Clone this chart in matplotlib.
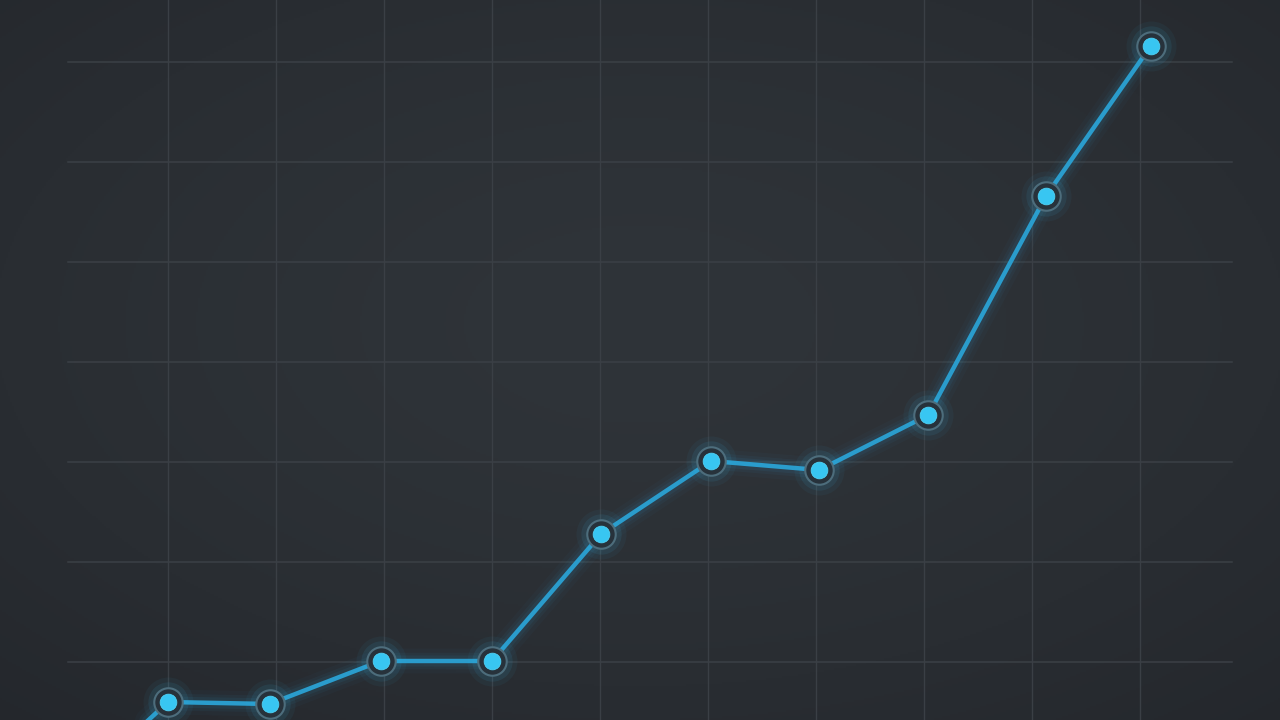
import numpy as np
import matplotlib.pyplot as plt

# data values (grid units: x = step index, y = value, gridlines every 10)
steps = [-1, 0, 0.94, 1.97, 3.0, 4.01, 5.03, 6.03, 7.04, 8.13, 9.10]
values = [-14.0, -4.0, -4.2, 0.1, 0.1, 12.8, 20.1, 19.2, 24.7, 46.6, 61.6]
vgrid = list(range(10))
hgrid = list(range(0, 70, 10))

fig = plt.figure(figsize=(12.8, 7.2), dpi=100)
ax = fig.add_axes([0, 0, 1, 1])
xmin, xmax = -168 / 108, (1280 - 168) / 108
ymin, ymax = -5.8, 66.2
ax.set_xlim(xmin, xmax)
ax.set_ylim(ymin, ymax)
ax.axis('off')

# background with soft vignette
yy, xx = np.mgrid[0:1:360j, 0:1:640j]
r = np.sqrt(((xx - 0.5) / 0.8) ** 2 + ((yy - 0.45) / 0.8) ** 2)
c_in = np.array([0x2f, 0x34, 0x39]) / 255
c_out = np.array([0x23, 0x26, 0x2b]) / 255
t = np.clip(r, 0, 1)[..., None] ** 1.5
bg = c_in * (1 - t) + c_out * t
ax.imshow(bg, extent=[xmin, xmax, ymin, ymax], aspect='auto', zorder=0, origin='upper')

# grid
for gx in vgrid:
    ax.axvline(gx, color='#3a3f45', lw=1.0, zorder=1)
for gy in hgrid:
    ax.plot([-0.93, 9.85], [gy, gy], color='#3b4046', lw=1.1, zorder=1)

# glow under line
for lw, a in [(18, 0.03), (12, 0.05), (8, 0.07)]:
    ax.plot(steps, values, color='#2fa8e0', lw=lw, alpha=a, solid_capstyle='round', zorder=2)
ax.plot(steps, values, color='#2a9ccc', lw=3.2, solid_joinstyle='round', zorder=3)

# markers: glow, outer ring, dark gap, bright core
for ms, a in [(36, 0.05), (29, 0.09)]:
    ax.plot(steps, values, 'o', ms=ms, color='#3ab8e8', alpha=a, mec='none', zorder=4)
ax.plot(steps, values, 'o', ms=20.5, mfc='#27323b', mec='#4d6d7c', mew=1.5, zorder=5)
ax.plot(steps, values, 'o', ms=12, color='#38c6f2', mec='#4fd2f6', mew=0.6, zorder=6)

fig.savefig('out.png', dpi=100)
